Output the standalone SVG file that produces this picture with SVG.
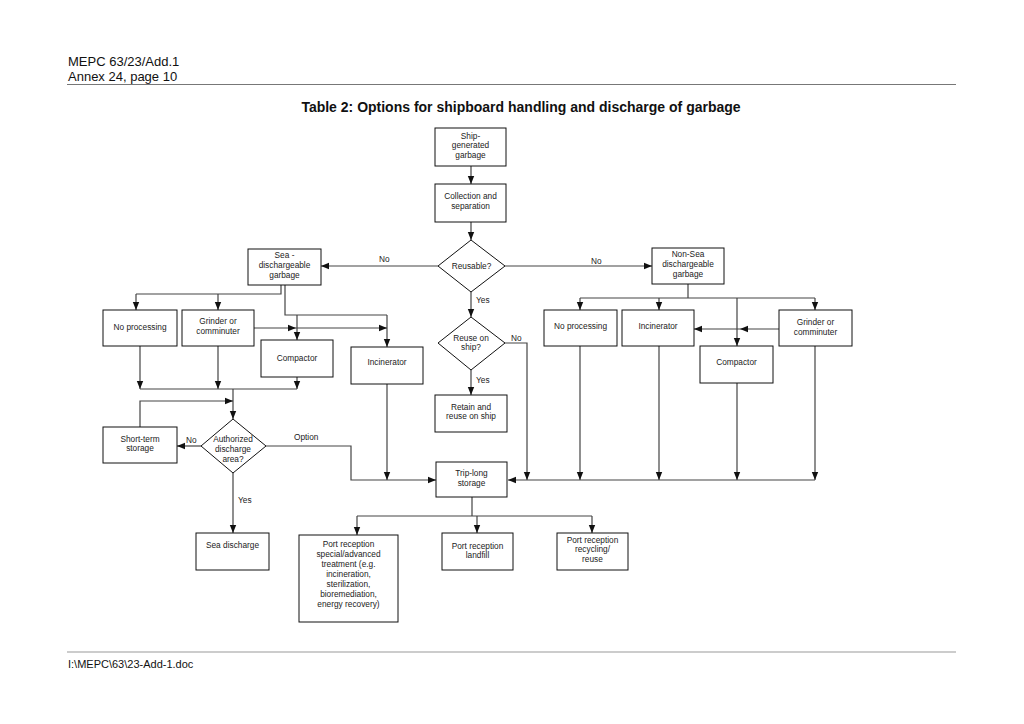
<svg xmlns="http://www.w3.org/2000/svg" width="1024" height="724" viewBox="0 0 1024 724">
<defs>
<marker id="ah" markerUnits="userSpaceOnUse" markerWidth="8" markerHeight="8" viewBox="0 0 8 8" refX="8" refY="4" orient="auto">
<path d="M0,0.8 L8,4 L0,7.2 Z" fill="#111"/>
</marker>
<style>
.box{fill:#fff;stroke:#111;stroke-width:1}
.t{font-family:"Liberation Sans",Arial,sans-serif;font-size:8.3px;fill:#222;text-anchor:middle}
.l{font-family:"Liberation Sans",Arial,sans-serif;font-size:8.3px;fill:#222}
.c{fill:none;stroke:#444;stroke-width:1.2}
.a{fill:none;stroke:#444;stroke-width:1.2;marker-end:url(#ah)}
.hd{font-family:"Liberation Sans",Arial,sans-serif;font-size:13px;fill:#111}
</style>
</defs>
<rect width="1024" height="724" fill="#fff"/>
<g id="header">
<text class="hd" x="68" y="66">MEPC 63/23/Add.1</text>
<text class="hd" x="68" y="81">Annex 24, page 10</text>
<line x1="67" y1="84.5" x2="956" y2="84.5" stroke="#777" stroke-width="1"/>
<text x="521" y="112" text-anchor="middle" font-family="Liberation Sans, Arial, sans-serif" font-size="14" font-weight="bold" fill="#111">Table 2: Options for shipboard handling and discharge of garbage</text>
</g>
<g id="footer">
<line x1="67" y1="652" x2="956" y2="652" stroke="#999" stroke-width="1"/>
<text x="68" y="668" font-family="Liberation Sans, Arial, sans-serif" font-size="11" fill="#111">I:\MEPC\63\23-Add-1.doc</text>
</g>
<g id="connectors">
<path class="a" d="M471,166 V184"/>
<path class="a" d="M471,222 V240"/>
<path class="a" d="M438,266 H321"/>
<path class="a" d="M505,266 H652"/>
<path class="a" d="M471,292 V317"/>
<path class="a" d="M471,370 V395"/>
<path class="a" d="M505,343 H527 V480"/>
<path class="c" d="M688,284 V298 M580,298 H815"/>
<path class="a" d="M580,298 V310"/>
<path class="a" d="M659,298 V310"/>
<path class="a" d="M815,298 V310"/>
<path class="a" d="M737,298 V346"/>
<path class="a" d="M779,329 H740"/>
<path class="a" d="M740,329 H694"/>
<path class="a" d="M580,346 V480"/>
<path class="a" d="M659,346 V480"/>
<path class="a" d="M737,383 V480"/>
<path class="a" d="M815,346 V480"/>
<path class="a" d="M815,480 H508"/>
<path class="c" d="M281,284 V294 H136"/>
<path class="a" d="M136,294 V310"/>
<path class="a" d="M218,294 V310"/>
<path class="c" d="M285,284 V315 H387"/>
<path class="a" d="M387,315 V347"/>
<path class="a" d="M297,315 V340"/>
<path class="a" d="M254,328 H296"/>
<path class="a" d="M296,328 H387"/>
<path class="a" d="M140,346 V389"/>
<path class="a" d="M218,346 V389"/>
<path class="a" d="M297,377 V389"/>
<path class="c" d="M140,389 H297"/>
<path class="a" d="M233,389 V419"/>
<path class="a" d="M140,427 V401 H233"/>
<path class="a" d="M201,446 H177"/>
<path class="a" d="M266,446 H351 V480 H436"/>
<path class="a" d="M387,384 V480"/>
<path class="a" d="M233,473 V533"/>
<path class="c" d="M472,497 V516 M357,516 H592"/>
<path class="a" d="M357,516 V535"/>
<path class="a" d="M477,516 V533"/>
<path class="a" d="M592,516 V533"/>
<text class="l" x="379" y="262">No</text>
<text class="l" x="591" y="264">No</text>
<text class="l" x="476" y="303">Yes</text>
<text class="l" x="511" y="341">No</text>
<text class="l" x="476" y="383">Yes</text>
<text class="l" x="186" y="443">No</text>
<text class="l" x="294" y="440">Option</text>
<text class="l" x="238" y="503">Yes</text>
</g>
<g id="ship"><rect class="box" x="435" y="128" width="71" height="38"/>
<text class="t" x="470.5" y="139">Ship-</text><text class="t" x="470.5" y="148">generated</text><text class="t" x="470.5" y="158">garbage</text></g>
<g id="collection"><rect class="box" x="435" y="184" width="71" height="38"/>
<text class="t" x="470.5" y="199">Collection and</text><text class="t" x="470.5" y="209">separation</text></g>
<g id="reusable"><polygon class="box" points="471,240 505,266 471,292 438,266"/>
<text class="t" x="471.5" y="269">Reusable?</text></g>
<g id="sea"><rect class="box" x="248" y="249" width="73" height="36"/>
<text class="t" x="284.5" y="258">Sea -</text><text class="t" x="284.5" y="268">dischargeable</text><text class="t" x="284.5" y="278">garbage</text></g>
<g id="nonsea"><rect class="box" x="652" y="248" width="72" height="36"/>
<text class="t" x="688" y="257">Non-Sea</text><text class="t" x="688" y="267">dischargeable</text><text class="t" x="688" y="277">garbage</text></g>
<g id="noproc-l"><rect class="box" x="103" y="310" width="74" height="36"/>
<text class="t" x="140" y="330">No processing</text></g>
<g id="grinder-l"><rect class="box" x="182" y="310" width="72" height="36"/>
<text class="t" x="218" y="324">Grinder or</text><text class="t" x="218" y="334">comminuter</text></g>
<g id="compactor-l"><rect class="box" x="261" y="340" width="72" height="37"/>
<text class="t" x="297" y="361">Compactor</text></g>
<g id="incinerator-l"><rect class="box" x="351" y="347" width="72" height="37"/>
<text class="t" x="387" y="365">Incinerator</text></g>
<g id="reuse"><polygon class="box" points="471,317 505,343 471,370 438,343"/>
<text class="t" x="471" y="341">Reuse on</text><text class="t" x="471" y="350">ship?</text></g>
<g id="retain"><rect class="box" x="435" y="395" width="72" height="37"/>
<text class="t" x="471" y="410">Retain and</text><text class="t" x="471" y="419">reuse on ship</text></g>
<g id="noproc-r"><rect class="box" x="544" y="310" width="73" height="36"/>
<text class="t" x="580.5" y="329">No processing</text></g>
<g id="incinerator-r"><rect class="box" x="622" y="310" width="72" height="36"/>
<text class="t" x="658" y="329">Incinerator</text></g>
<g id="compactor-r"><rect class="box" x="700" y="346" width="73" height="37"/>
<text class="t" x="736.5" y="365">Compactor</text></g>
<g id="grinder-r"><rect class="box" x="779" y="310" width="73" height="36"/>
<text class="t" x="815.5" y="325">Grinder or</text><text class="t" x="815.5" y="335">comminuter</text></g>
<g id="shortterm"><rect class="box" x="103" y="427" width="74" height="36"/>
<text class="t" x="140" y="442">Short-term</text><text class="t" x="140" y="451">storage</text></g>
<g id="authorized"><polygon class="box" points="233,419 266,446 233,473 201,446"/>
<text class="t" x="233" y="442">Authorized</text><text class="t" x="233" y="452">discharge</text><text class="t" x="233" y="462">area?</text></g>
<g id="triplong"><rect class="box" x="436" y="462" width="71" height="35"/>
<text class="t" x="471.5" y="476">Trip-long</text><text class="t" x="471.5" y="486">storage</text></g>
<g id="seadischarge"><rect class="box" x="196" y="533" width="73" height="37"/>
<text class="t" x="232.5" y="548">Sea discharge</text></g>
<g id="special"><rect class="box" x="299" y="535" width="99" height="87"/>
<text class="t" x="348.5" y="547">Port reception</text><text class="t" x="348.5" y="557">special/advanced</text><text class="t" x="348.5" y="567">treatment (e.g.</text><text class="t" x="348.5" y="577">incineration,</text><text class="t" x="348.5" y="587">sterilization,</text><text class="t" x="348.5" y="597">bioremediation,</text><text class="t" x="348.5" y="607">energy recovery)</text></g>
<g id="landfill"><rect class="box" x="442" y="533" width="71" height="37"/>
<text class="t" x="477.5" y="549">Port reception</text><text class="t" x="477.5" y="558">landfill</text></g>
<g id="recycling"><rect class="box" x="557" y="533" width="71" height="37"/>
<text class="t" x="592.5" y="543">Port reception</text><text class="t" x="592.5" y="552">recycling/</text><text class="t" x="592.5" y="562">reuse</text></g>
</svg>
